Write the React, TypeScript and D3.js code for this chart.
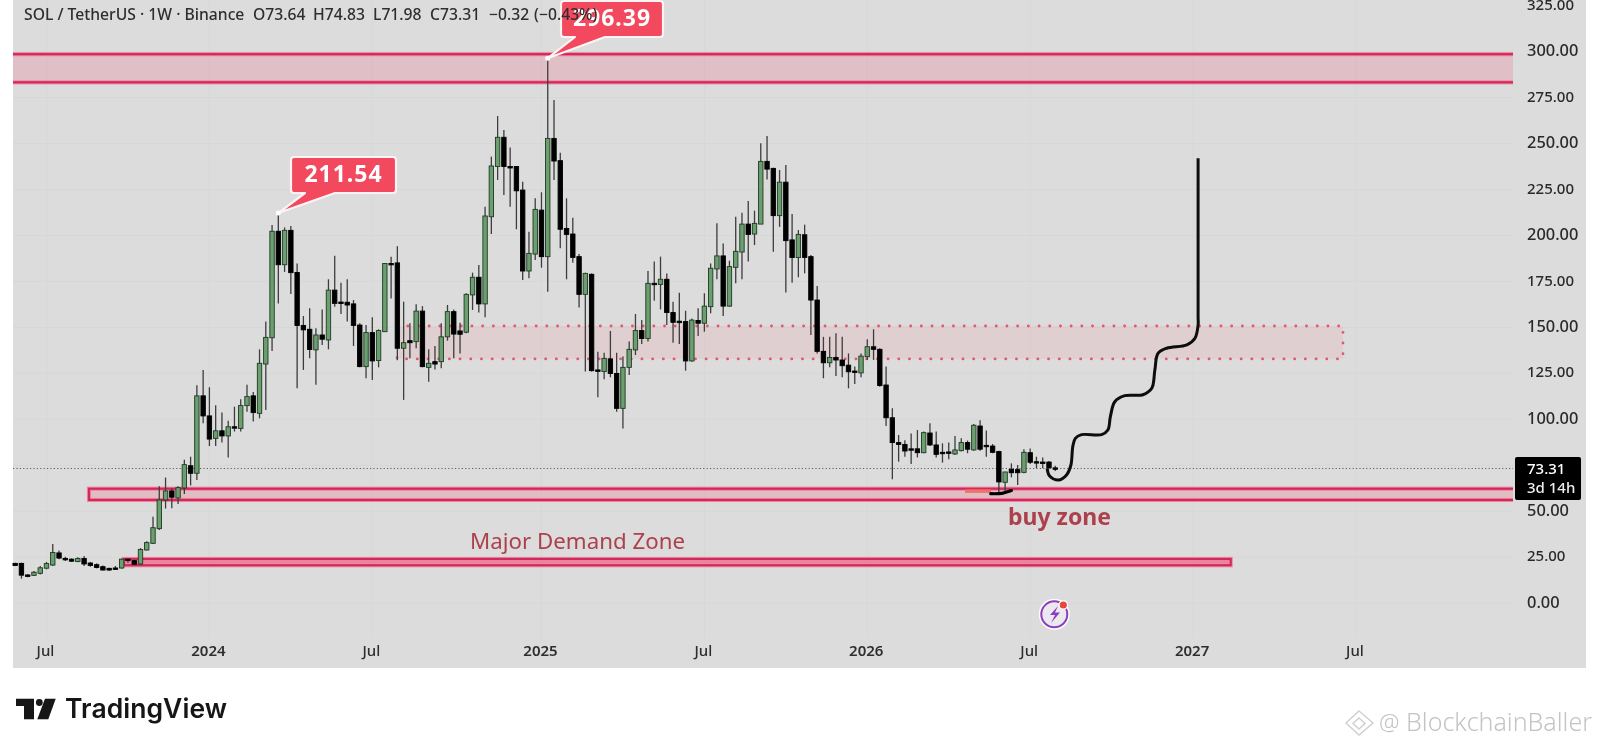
import React from "react";
import * as d3 from "d3";

const W = 1600, H = 749;

// weekly OHLC, first bar = week of 2023-05-29
const opens = [21.7,21.7,15.4,15.2,16.3,19.1,20.8,27.4,24.4,24,
22.7,24.4,21.9,21,19.9,19,19.2,19.2,24,23.2,
21.4,29,32.6,40.6,56.2,61.1,57.3,62.7,74.8,70.7,
112.8,101.9,89.7,93.8,91,96,95.1,107.5,112.8,103.3,
130.1,144.4,202.3,184.1,202.8,179.9,151.1,149,137.8,145.9,
143.2,170.3,163.8,163.7,162.8,151.3,128.7,147.2,132,147.7,
184.8,185.1,138.7,142.8,142.3,158.9,128.3,131.4,131.4,144.9,
158.6,148.1,147.4,167.7,177.3,162.8,210.2,237.5,253.4,237.5,
237.5,224.7,180.7,189.9,213.8,188.5,252.8,240.7,203.8,200.8,
188.5,168,178.9,126.9,126,132.9,125,106,128.3,137.8,
148.3,144,174,173.4,176.2,158.1,153.4,153.2,131.8,153.8,
152.3,161.3,181.8,188.9,161.6,182.7,191,206.2,200.8,206.2,
240.3,236.5,210.8,229,197.6,188,200.4,188.5,164.9,137,
130.8,133.7,132.3,129.5,126.3,125.3,134.1,139.5,138.1,118.7,
100.9,87.4,86.4,84,84,81.9,92.6,86.1,82.1,82.3,
81.2,83,87.4,83.4,96.4,85.9,85.5,82.5,65.8,72.9,
72.7,71.2,81.9,77,76.8,76.8,73.64];

const highs = [22.1,22.1,15.9,17.6,20.3,22.5,32.3,28.7,25.3,24.4,
25,25.7,22.5,21.7,20.5,19.3,20.3,24.4,24.4,23.6,
30,33.7,47.1,63.7,68.4,62.5,63.7,78,79.7,118.6,
126.9,117.5,107.7,103.7,99.3,106.9,110.9,118.9,114.9,138.1,
153.2,205.7,211.54,204.4,205.1,184.8,156.2,160.4,149.5,159.8,
176.2,189,174.3,176.2,164.9,152.3,151.3,155.5,149,185.1,
188.5,194.2,164,152.3,162.6,161.6,138.1,139.9,152.3,162.2,
159.8,152.6,168.6,179.8,183.9,215.7,242.9,265,257.4,247.9,
237.8,229.2,202.1,220.2,223.5,296.39,273.7,245,220.2,209.6,
189.9,179.8,179.4,136.8,136.3,148.1,136.3,134.2,142.3,157.3,
154,180.7,185.8,188.5,179.4,164,168.9,159.1,154.9,160.4,
168.6,184.8,206.6,195.7,186.3,210.2,212.4,218.7,213.5,250.1,
254.1,236.9,235.6,238.4,211.7,203,205.9,189.4,172.6,144.9,
144.9,146.8,144.9,135.9,128.7,135.9,143.6,149,138.7,128.7,
106,91.5,88.7,92.4,94.2,93.4,97.9,93.4,87,87.4,
91,89.7,88.5,97.5,99.6,94,86.6,83,71.6,76.1,
75.2,83.8,84.2,79.7,79.3,77.4,74.83];

const lows = [20.3,13.4,14.2,14.8,15.7,18.5,20.3,24,23,22.5,
22.3,20.3,19.9,19,17.8,17.6,18.5,18.8,22.1,20.8,
20.8,28.7,32.3,39.8,51.5,51.7,54,59.4,64.1,67.1,
97.9,85.5,85.5,87.4,79.3,93.4,93.4,104.2,98.8,100.6,
105.1,137.2,163,180.2,168.2,116.9,126.9,133.2,118.8,140.4,
138.1,161.3,157.3,153.2,139.9,128.3,122.4,121.4,128.3,147.7,
165.8,132.2,110.6,133.2,138.7,128.3,120.5,127.2,127.8,142.8,
133.2,135.9,146.8,159.5,158.1,155.5,200.8,230.2,222,215.7,
203.4,175.8,176.7,186.7,182.5,169.4,230.2,193,176.2,185.2,
160.9,126,126,112,121.8,122.9,104.2,95.1,124.1,135,
141,142.3,164.5,159.8,151.3,141.7,141,126.5,131.4,145.3,
147.7,157.7,176.2,156.2,161.3,174,176.2,185.8,194.8,206.2,
230.5,191.2,204.7,169,174.3,177.3,179.4,145.9,135.9,122.4,
128.3,123.6,122.9,116.9,119.2,122.9,132.3,132.3,117.8,96.4,
67.4,77,79.7,75.7,79.3,81.6,85.5,79.3,76.5,78.3,
80.6,82.5,81.6,83,83,79.7,81.6,60.1,60.1,68.5,
64.3,70.7,75.7,73.4,73.4,72.9,71.98];

const closes = [20.6,15.3,14.8,16.9,19.3,21.6,27.6,24.6,24,22.9,
24.4,21.4,20.6,19.5,18.1,18.1,18.8,24,23.4,21.2,
29.3,33,41.1,56.2,61.1,57.7,62.9,75.4,70.7,112.8,
101.9,89.3,93.8,91,96,95.5,107.5,112.4,103.7,130.5,
144.6,202.3,184.1,202.8,179.8,151.1,148.7,138,145.9,143.6,
170.3,163.1,163.1,162.2,151.1,128.7,147.2,131.8,148.3,184.8,
184.3,138.7,141.7,141.7,158.9,128.7,130.5,130.1,144.9,158.6,
146.4,146.3,168,177.3,162.8,210.6,237.8,253.4,237.5,236.9,
224.3,180.7,190.3,214.2,188.5,252.8,240.5,203.4,200.6,188.1,
168,179.4,126.5,126.1,133.2,125,106,128.3,138.1,148.3,
144,174,173.4,176.2,158.1,152.8,152.6,131.8,154,152.3,
161.6,182.2,188.9,161.6,183.1,191.4,206.2,200.6,206.6,240.3,
236.1,210.8,229,197.2,188,200.6,188.1,164.9,137,130.8,
133.7,132.3,129.2,125.9,125.6,134.4,139.5,138.1,118.4,100.9,
87.4,86.4,82.8,83.4,81.9,92.8,86.1,81,81.7,81.7,
83.4,87.4,83.8,96.8,83.8,85.2,82.1,66,71.4,71,
71,82.1,76.7,76.5,76.3,73.8,73.31];

const firstWeek = new Date(2023, 4, 29);
const priceTicks = [325, 300, 275, 250, 225, 200, 175, 150, 125, 100, 50, 25, 0];
const gridPrices = [300, 275, 250, 225, 200, 175, 150, 125, 100, 75, 50, 25, 0];
const timeTicks = [
  { date: new Date(2023, 6, 3), label: "Jul", year: false },
  { date: new Date(2024, 0, 1), label: "2024", year: true },
  { date: new Date(2024, 6, 1), label: "Jul", year: false },
  { date: new Date(2025, 0, 6), label: "2025", year: true },
  { date: new Date(2025, 6, 7), label: "Jul", year: false },
  { date: new Date(2026, 0, 5), label: "2026", year: true },
  { date: new Date(2026, 6, 6), label: "Jul", year: false },
  { date: new Date(2027, 0, 4), label: "2027", year: true },
  { date: new Date(2027, 6, 5), label: "Jul", year: false },
];

// hand-drawn projection: [weeks since first bar, price]
const projection: [number, number][] = [
  [164.7,73.4],[165.1,69.2],[166.5,67],[167.8,69.8],[168.5,75.2],[168.8,85.2],[169.2,89.7],[170.2,91.7],
  [173.4,91.7],[174.4,94.2],[174.8,101.5],[175.5,109.6],[177.1,112.9],[180,113.4],[181.4,116.9],
  [181.9,126.9],[182.4,135.9],[183.8,138.7],[187,140.5],[188.3,144.1],[188.8,151.3],[188.8,156],[188.8,235],[188.8,242],
];
// marker stroke drawn under the swing low
const lowMarker: [number, number][] = [[155.7, 59.6], [157.5, 59.8], [159, 61.3]];

const lastPrice = 73.31;
const peakLabels = [
  { week: 42, price: 212.2, text: "211.54" },
  { week: 85, price: 296.39, text: "296.39" },
];
const legendParts = [
  { x: 24, t: "SOL / TetherUS · 1W · Binance" },
  { x: 253, t: "O73.64" },
  { x: 313, t: "H74.83" },
  { x: 373, t: "L71.98" },
  { x: 430, t: "C73.31" },
  { x: 489, t: "−0.32" },
  { x: 534, t: "(−0.43%)" },
];

const SANS = "'Noto Sans', sans-serif";
const PL = 13, PR = 1513, PB = 668, AXR = 1586;

export default function App() {
  const y = d3.scaleLinear().domain([0, 300]).range([603.3, 51.6]);
  const x = d3.scaleTime().domain([new Date(2023, 6, 3), new Date(2027, 6, 5)]).range([46.5, 1356]);
  const xw = (w: number) => x(d3.timeHour.offset(firstWeek, Math.round(w * 168)));
  const line = d3.line<[number, number]>().x(d => xw(d[0])).y(d => y(d[1])).curve(d3.curveCatmullRom.alpha(0.5));

  const bandBox = (top: number, bottom: number, x0: number, x1: number) => ({
    x: x0, y: y(top), width: x1 - x0, height: y(bottom) - y(top),
  });
  const zoneA = bandBox(298.6, 283.3, PL - 6, PR + 6);
  const zoneB = bandBox(62.3, 56.2, 89, PR + 6);
  const zoneC = bandBox(24.1, 20.7, 124, 1230.7);
  const zoneD = bandBox(150.8, 132.9, 397, 1343);

  const solidZone = (z: any, k: string, fill: string) => (
    <g key={k}>
      <rect {...z} fill={fill} stroke="#f2899f" strokeWidth={4.2} />
      <rect {...z} fill="none" stroke="#cf2a5e" strokeWidth={2.2} />
    </g>
  );

  const tag = (p: typeof peakLabels[number], bx: number, by: number, bw: number, bh: number, fs: number) => {
    const tx = xw(p.week), ty = y(p.price);
    const b0 = bx + 14, b1 = bx + 44;
    return (
      <g key={p.text}>
        <path
          d={`M${bx + 3},${by} H${bx + bw - 3} Q${bx + bw},${by} ${bx + bw},${by + 3} V${by + bh - 3} Q${bx + bw},${by + bh} ${bx + bw - 3},${by + bh} H${b1} L${tx},${ty} L${b0},${by + bh} H${bx + 3} Q${bx},${by + bh} ${bx},${by + bh - 3} V${by + 3} Q${bx},${by} ${bx + 3},${by} Z`}
          fill="#f2485f" stroke="#fdf3f3" strokeWidth={2.2} strokeLinejoin="round"
        />
        <circle cx={tx} cy={ty} r={2.5} fill="#fff" />
        <text x={bx + bw / 2} y={by + bh / 2 + 1} textAnchor="middle" dominantBaseline="middle"
          fontFamily={SANS} fontWeight={700} fontSize={fs} letterSpacing={1} fill="#fff">{p.text}</text>
      </g>
    );
  };

  return (
    <svg width={W} height={H} viewBox={`0 0 ${W} ${H}`} style={{ position: "fixed", left: 0, top: 0, background: "#fff" }}>
      <defs>
        <clipPath id="plot"><rect x={PL} y={0} width={PR - PL} height={PB} /></clipPath>
        <filter id="soft" x="-2%" y="-2%" width="104%" height="104%"><feGaussianBlur stdDeviation={0.45} /></filter>
      </defs>
      <g filter="url(#soft)">
        <rect x={PL} y={0} width={AXR - PL} height={PB} fill="#dcdcdc" />
        {gridPrices.map(p => (
          <line key={p} x1={PL} x2={PR} y1={y(p)} y2={y(p)} stroke="#d6d7d7" strokeWidth={1} />
        ))}
        {timeTicks.map(t => (
          <line key={+t.date} x1={x(t.date)} x2={x(t.date)} y1={0} y2={638} stroke="#d6d7d7" strokeWidth={1} />
        ))}

        <g clipPath="url(#plot)">
          {solidZone(zoneA, "a", "rgba(240,80,110,0.2)")}
          {solidZone(zoneB, "b", "rgba(240,80,110,0.22)")}
          {solidZone(zoneC, "c", "rgba(240,60,110,0.55)")}
          <rect {...zoneD} fill="rgba(255,120,130,0.13)" />
          <rect {...zoneD} fill="none" stroke="#e2586e" strokeWidth={2.8} strokeLinecap="round" strokeDasharray="0.1 10.6" />
          <line x1={PL} x2={PR} y1={y(lastPrice)} y2={y(lastPrice)} stroke="#5a5a5a" strokeWidth={1} strokeDasharray="1.2 2.2" />
        </g>

        {opens.map((o, i) => {
          const c = closes[i], up = c > o;
          const cx = xw(i);
          const top = y(Math.max(o, c)), bot = y(Math.min(o, c));
          return (
            <g key={i}>
              <line x1={cx} x2={cx} y1={y(highs[i])} y2={y(lows[i])} stroke="#3c3c3c" strokeWidth={1.3} />
              <rect x={cx - 2.2} y={top} width={4.4} height={Math.max(bot - top, 1.4)}
                fill={up ? "#6c9f70" : "#000"} stroke={up ? "#1e3a22" : "#000"} strokeWidth={0.9} />
            </g>
          );
        })}

        <line x1={965} x2={991} y1={y(61)} y2={y(61)} stroke="#f0706a" strokeWidth={3.5} />
        <path d={line(lowMarker) as string} fill="none" stroke="#000" strokeWidth={3.2} strokeLinecap="round" />
        <path d={line(projection) as string} fill="none" stroke="#0c0c0c" strokeWidth={3} strokeLinejoin="round" />

        {tag(peakLabels[0], 291, 157, 105, 36, 23)}
        {tag(peakLabels[1], 561, 1, 102, 36, 23)}

        {legendParts.map(l => (
          <text key={l.t} x={l.x} y={20} fontFamily={SANS} fontWeight={500} fontSize={15.7} fill="#2e2e2e">{l.t}</text>
        ))}

        {priceTicks.map(p => (
          <text key={p} x={1527} y={y(p)} dominantBaseline="middle" fontFamily={SANS} fontWeight={500}
            fontSize={p % 50 === 0 ? 16.4 : 15} fill="#2a2a2a">{p.toFixed(2)}</text>
        ))}
        <rect x={1515} y={457} width={66} height={43} rx={2} fill="#000" />
        <text x={1527} y={469.5} dominantBaseline="middle" fontFamily={SANS} fontWeight={500} fontSize={15} fill="#fff">{lastPrice.toFixed(2)}</text>
        <text x={1527} y={488.5} dominantBaseline="middle" fontFamily={SANS} fontWeight={500} fontSize={15} fill="#eee">3d 14h</text>

        {timeTicks.map(t => (
          <text key={+t.date} x={x(t.date) - 1} y={651.5} textAnchor="middle" dominantBaseline="middle" fontFamily={SANS}
            fontWeight={t.year ? 600 : 500} fontSize={15} fill="#2e2e2e">{t.label}</text>
        ))}

        <text x={1008} y={525} fontFamily={SANS} fontWeight={700} fontSize={23} fill="#ad414d">buy zone</text>
        <text x={470} y={549} fontFamily={SANS} fontWeight={400} fontSize={22.3} fill="#ad414d">Major Demand Zone</text>

        <g>
          <circle cx={1054.3} cy={614.3} r={14} fill="#f3f0f5" stroke="#fff" strokeWidth={3} />
          <circle cx={1054.3} cy={614.3} r={13} fill="#ece8ef" stroke="#8a3fbd" strokeWidth={2} />
          <path d="M1058,606 L1050,615 L1055,615 L1051,623 L1060,612.5 L1055,612.5 Z" fill="#8a3fbd" />
          <circle cx={1063.3} cy={605} r={4.2} fill="#e2483f" stroke="#fff" strokeWidth={1.2} />
        </g>

        <g fill="#141414">
          <path d="M16,698.7 H34 V719.3 H24 V706 H16 Z" />
          <circle cx={39.3} cy={702.5} r={3.4} />
          <path d="M45,698.7 H55.7 L48.3,719.3 H37.3 Z" />
        </g>
        <text x={65} y={718} fontFamily="Inter, sans-serif" fontWeight={600} fontSize={26.5} fill="#141414" textLength={162}>TradingView</text>

        <g fill="none" stroke="#cfcfcf" strokeWidth={1.4}>
          <path d="M1359,711 L1373,723 L1359,735 L1346,723 Z" />
          <path d="M1359,718 L1365,723.5 L1359,729 L1353,723.5 Z" />
        </g>
        <text x={1379} y={731} fontFamily={SANS} fontWeight={300} fontSize={23} fill="#c4c4c4">@</text>
        <text x={1406} y={731} fontFamily={SANS} fontWeight={300} fontSize={25} fill="#c4c4c4">BlockchainBaller</text>
      </g>
    </svg>
  );
}
